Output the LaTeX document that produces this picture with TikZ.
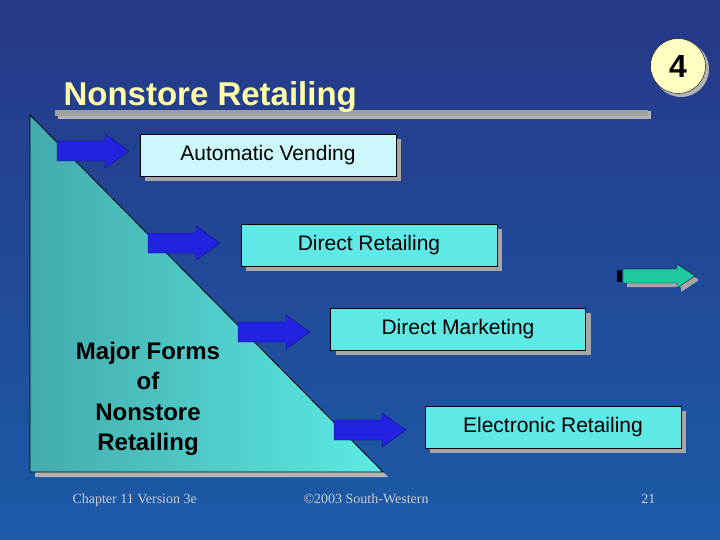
\documentclass[tikz,border=0pt]{standalone}
\usepackage{fontspec}
\setmainfont{Liberation Sans}
\newfontfamily\footfont{Liberation Serif}
\usetikzlibrary{shadows,calc}
\definecolor{bgtop}{HTML}{263887}
\definecolor{bgbot}{HTML}{1C5BA8}
\definecolor{titleyel}{HTML}{FFFFA8}
\definecolor{triL}{HTML}{43ABAD}
\definecolor{triR}{HTML}{5CEAE4}
\definecolor{boxlight}{HTML}{CCF8FC}
\definecolor{boxcyan}{HTML}{5EE8E6}
\definecolor{arrowblue}{HTML}{2222E0}
\definecolor{arrowgreen}{HTML}{20C8A0}
\tikzset{
  formbox/.style={draw=black, thick, minimum width=256pt, minimum height=42pt,
    font=\fontsize{21}{24}\selectfont, inner sep=0pt,
    drop shadow={shadow xshift=5pt, shadow yshift=-5pt, fill=gray!70, opacity=1}},
  foot/.style={text=gray!40, font=\footfont\fontsize{14}{16}\selectfont}
}
% block arrow: tail point, length, shaft half height, head half height, head length
\newcommand{\blockarrow}[6]{%
  \path[#1] (#2) ++(0,-#4) -- ++(#3-#6,0) -- ++(0,#4-#5) -- ++(#6,#5) -- ++(-#6,#5)
    -- ++(0,#4-#5) -- ++(-#3+#6,0) -- cycle;}
\begin{document}
\begin{tikzpicture}[x=1pt, y=-1pt]
\shade[top color=bgtop, bottom color=bgbot] (0,0) rectangle (720,540);
\useasboundingbox (0,0) rectangle (720,540);

% title and rule
\fill[gray!60] (58,111) rectangle (651,119);
\fill[gray!75] (55,110) rectangle (648,116);
\node (title) [anchor=base west, text=titleyel, font=\bfseries\fontsize{33}{36}\selectfont] at (60,106) {Nonstore Retailing};

% slide number
\fill[gray!60] (681,69) circle (28);
\node (badge) [circle, draw=black, fill=titleyel!70, minimum size=55pt, inner sep=0pt,
  font=\bfseries\fontsize{32}{34}\selectfont] at (678,66) {4};

% triangle
\fill[gray!60] (35,120) -- (35,477) -- (388,477) -- cycle;
\shade[left color=triL, right color=triR, draw=black, thick] (30,115) -- (30,472) -- (383,472) -- cycle;
\node (major) [align=center, font=\bfseries\fontsize{24}{30.5}\selectfont] at (148,399)
  {Major Forms\\of\\Nonstore\\Retailing};

% boxes
\node (vend) [formbox, fill=boxlight] at (268,155) {Automatic Vending};
\node (direct) [formbox, fill=boxcyan] at (369,245) {Direct Retailing};
\node (market) [formbox, fill=boxcyan, minimum width=255pt] at (458,329) {Direct Marketing};
\node (elec) [formbox, fill=boxcyan] at (553,427) {Electronic Retailing};

% arrows
\coordinate (a1) at (57,151);
\coordinate (a2) at (148,243);
\coordinate (a3) at (238,332);
\coordinate (a4) at (334,430);
\foreach \a in {a1,a2,a3,a4}
  \blockarrow{fill=arrowblue, draw=arrowblue!50!black}{\a}{72}{10}{17}{24}
\coordinate (next) at (623,276);
\coordinate (nextshadow) at (627,280);
\blockarrow{fill=gray!70}{nextshadow}{72}{7}{12}{18}
\blockarrow{fill=arrowgreen, draw=black}{next}{72}{7}{12}{18}
\fill[black] (617,270) rectangle (622,282);

% footer
\node (chap) [foot, anchor=base west] at (69,503) {Chapter 11 Version 3e};
\node (copy) [foot, anchor=base west] at (300,503) {\textcopyright 2003 South-Western};
\node (page) [foot, anchor=base east] at (659,503) {21};
\end{tikzpicture}
\end{document}
